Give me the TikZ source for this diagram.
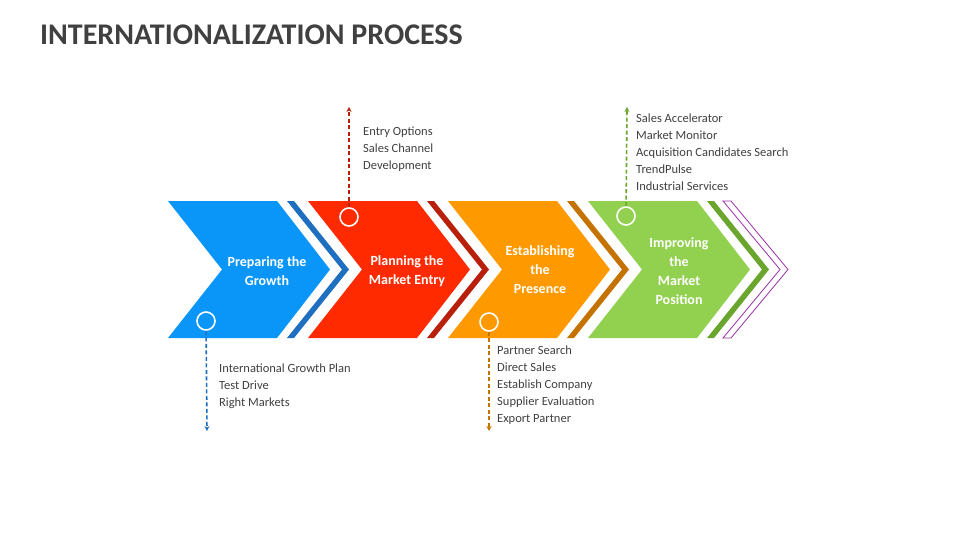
\documentclass[tikz,border=0pt]{standalone}
\usepackage{fontspec}
\setmainfont{Carlito}
\usetikzlibrary{arrows.meta}
\definecolor{cb}{HTML}{0A96F8}\definecolor{cbd}{HTML}{1E6FBF}
\definecolor{cr}{HTML}{FF2A00}\definecolor{crd}{HTML}{B8200C}
\definecolor{co}{HTML}{FF9900}\definecolor{cod}{HTML}{C47200}
\definecolor{cg}{HTML}{92D050}\definecolor{cgd}{HTML}{6AA62E}
\definecolor{cp}{HTML}{9B2FA8}\definecolor{tx}{HTML}{404040}
\tikzset{
 lbl/.style={text=white,font=\bfseries\fontsize{14}{19}\selectfont,align=center},
 lst/.style={text=tx,font=\fontsize{12.5}{17}\selectfont,align=left,anchor=north west,inner sep=0pt},
 ring/.style={circle,draw=white,line width=1.6pt,minimum size=18pt,inner sep=0pt},
 dsh/.style={dashed,line width=1.6pt,dash pattern=on 4pt off 2.5pt,-{Stealth[length=5pt,width=5pt]}}
}
\newcommand{\chev}[2]{\fill[#2] (#1,201) -- (#1+109,201) -- (#1+162,269.5) -- (#1+109,338) -- (#1,338) -- (#1+54,269.5) -- cycle;}
\newcommand{\strip}[2]{\fill[#2] (#1+119,201) -- (#1+126,201) -- (#1+181,269.5) -- (#1+126,338) -- (#1+119,338) -- (#1+174,269.5) -- cycle;}
\begin{document}
\begin{tikzpicture}[x=1pt,y=-1pt]
\useasboundingbox (0,0) rectangle (960,540);
\fill[white] (0,0) rectangle (960,540);
\node[anchor=west,text=tx,font=\bfseries\fontsize{30}{32}\selectfont,inner sep=0pt] (title) at (40,35) {INTERNATIONALIZATION PROCESS};
\chev{168}{cb}\strip{168}{cbd}
\chev{308}{cr}\strip{308}{crd}
\chev{448}{co}\strip{448}{cod}
\chev{588}{cg}\strip{588}{cgd}
\draw[cp,line width=0.8pt,fill=white] (723,201) -- (731,201) -- (788,269.5) -- (731,338) -- (723,338) -- (780,269.5) -- cycle;
\node[lbl] (l1) at (267,271) {Preparing the\\Growth};
\node[lbl] (l2) at (407,271) {Planning the\\Market Entry};
\node[lbl] (l3) at (540,270) {Establishing\\the\\Presence};
\node[lbl] (l4) at (679,271) {Improving\\the\\Market\\Position};
\node[ring] (r1) at (206,321) {};
\node[ring] (r2) at (349,217) {};
\node[ring] (r3) at (489,322) {};
\node[ring] (r4) at (626,216) {};
\coordinate (e1) at (207,431);\coordinate (e2) at (349,107);
\coordinate (e3) at (489,431);\coordinate (e4) at (627,107);
\draw[dsh,cbd] (r1) -- (e1);
\draw[dsh,crd] (r2) -- (e2);
\draw[dsh,cod] (r3) -- (e3);
\draw[dsh,cgd] (r4) -- (e4);
\node[lst] (t1) at (219,364) {International Growth Plan\\Test Drive\\Right Markets};
\node[lst] (t2) at (363,127) {Entry Options\\Sales Channel\\Development};
\node[lst] (t3) at (497,346) {Partner Search\\Direct Sales\\Establish Company\\Supplier Evaluation\\Export Partner};
\node[lst] (t4) at (636,114) {Sales Accelerator\\Market Monitor\\Acquisition Candidates Search\\TrendPulse\\Industrial Services};
\end{tikzpicture}
\end{document}
